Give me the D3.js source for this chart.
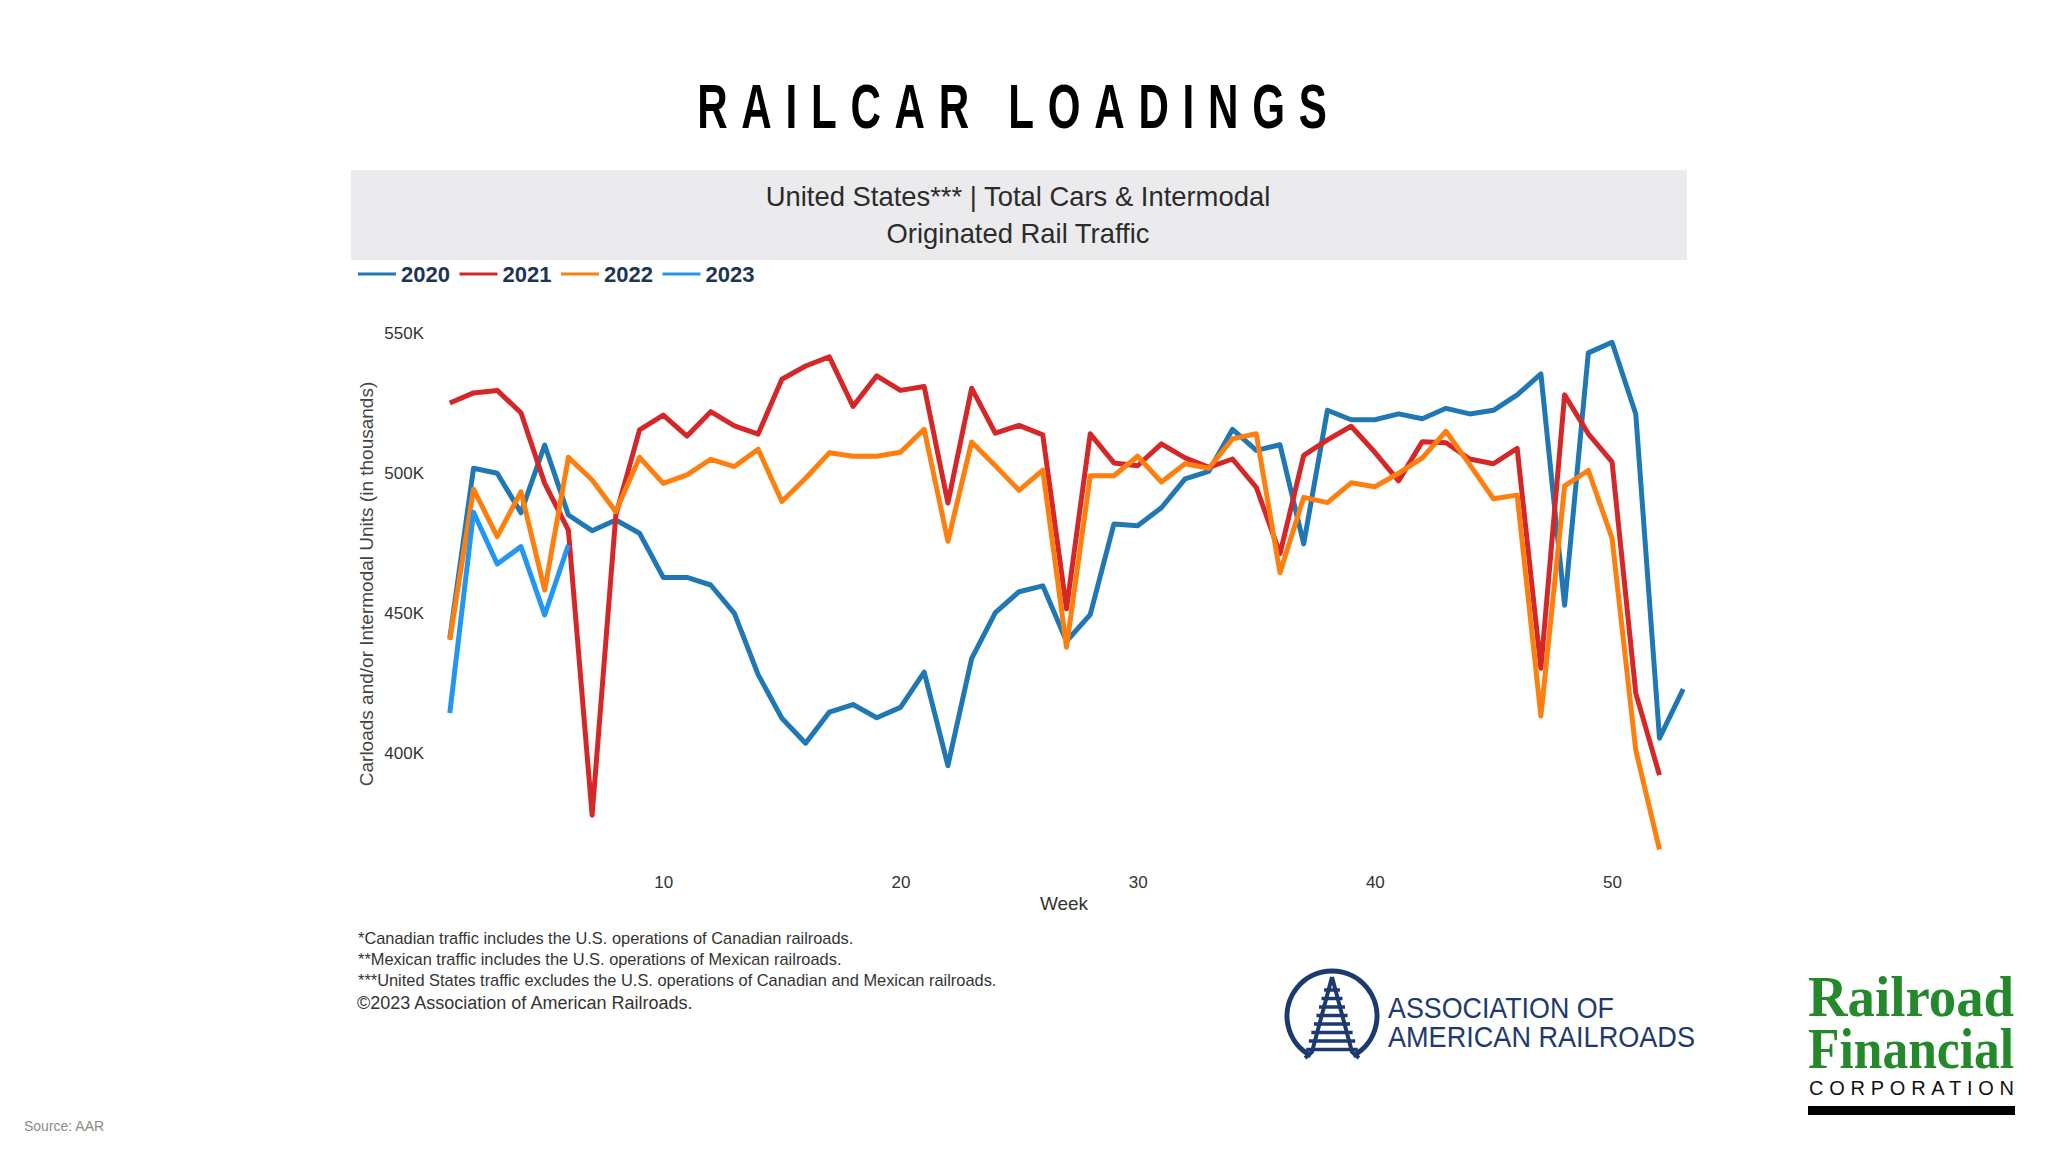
<!DOCTYPE html>
<html>
<head>
<meta charset="utf-8">
<script src="https://cdn.jsdelivr.net/npm/d3@7"></script>
<style>
  body { margin: 0; background: #ffffff; }
  svg { display: block; font-family: "Liberation Sans", Arial, sans-serif; }
</style>
</head>
<body>
<div id="chart"></div>
<script>
// weekly originated carloads + intermodal units, in thousands
const years = ["2020", "2021", "2022", "2023"];
const colors = ["#1f77b4", "#d62728", "#ff7f0e", "#2196f3"];

const loads2020 = [441, 501.7, 499.9, 485.8, 510, 485, 479.4, 483.2, 478.5, 462.7,
  462.7, 460, 449.9, 428, 412.4, 403.5, 414.6, 417.3, 412.6, 416.3,
  428.9, 395.5, 433.7, 450.1, 457.6, 459.7, 439.9, 449.4, 481.8, 481.2,
  487.6, 497.9, 500.6, 515.6, 508.1, 510.1, 474.7, 522.4, 519, 519,
  521.1, 519.4, 523.1, 521.1, 522.4, 527.9, 535.4, 452.8, 542.9, 546.7,
  521.1, 405.3, 422.8];
const loads2021 = [525, 528.6, 529.5, 521.5, 496.3, 479.6, 377.8, 485, 515.4, 520.7,
  513.2, 521.9, 516.8, 513.9, 533.5, 538.2, 541.5, 523.8, 534.7, 529.5,
  530.9, 489.3, 530.3, 514.2, 517, 513.6, 451.5, 514, 503.6, 502.6,
  510.4, 505.4, 502, 505, 494.9, 471.2, 506.3, 511.8, 516.7, 507.4,
  497.2, 511.2, 510.8, 505, 503.3, 508.8, 430.3, 527.9, 514, 504,
  421.4, 392.1];
const loads2022 = [440.4, 494.2, 477.3, 493.3, 458.2, 505.6, 497.5, 486.2, 505.6, 496.3,
  499.3, 504.9, 502.3, 508.5, 489.8, 498.1, 507.2, 506, 506, 507.4,
  515.6, 475.6, 511.1, 502.6, 493.8, 501, 437.8, 499, 499, 506,
  496.8, 503.3, 501.7, 512.2, 514, 464.4, 491.3, 489.4, 496.5, 495.1,
  499.9, 505.4, 514.9, 503, 490.8, 492.1, 413.2, 495.4, 500.9, 476.7,
  401, 365.5];
const loads2023 = [414.3, 486, 467.5, 473.7, 449.3, 474.3];

const yTicks = [400, 450, 500, 550];
const xTicks = [10, 20, 30, 40, 50];

const footnotes = [
  "*Canadian traffic includes the U.S. operations of Canadian railroads.",
  "**Mexican traffic includes the U.S. operations of Mexican railroads.",
  "***United States traffic excludes the U.S. operations of Canadian and Mexican railroads."
];

const series = [loads2020, loads2021, loads2022, loads2023].map((vals, i) => ({
  year: years[i],
  color: colors[i],
  values: vals.map((v, k) => ({ week: k + 1, value: v }))
}));

const W = 2048, H = 1152;
const svg = d3.select("#chart").append("svg")
  .attr("width", W)
  .attr("height", H);

svg.append("rect").attr("width", W).attr("height", H).attr("fill", "#ffffff");

// page title, squeezed horizontally to look like a condensed face
svg.append("g")
  .attr("transform", "translate(1012,128) scale(0.68,1)")
  .append("text")
  .attr("text-anchor", "middle")
  .attr("textLength", 926)
  .attr("lengthAdjust", "spacing")
  .style("font-weight", "bold")
  .style("font-size", "62px")
  .attr("fill", "#000")
  .text("RAILCAR LOADINGS");

// header band
svg.append("rect")
  .attr("x", 351).attr("y", 170)
  .attr("width", 1336).attr("height", 90)
  .attr("fill", "#ebebee");

svg.append("text")
  .attr("x", 1018).attr("y", 206)
  .attr("text-anchor", "middle")
  .style("font-size", "27.4px")
  .attr("fill", "#2b2b2b")
  .text("United States*** | Total Cars & Intermodal");

svg.append("text")
  .attr("x", 1018).attr("y", 243)
  .attr("text-anchor", "middle")
  .style("font-size", "27.4px")
  .attr("fill", "#2b2b2b")
  .text("Originated Rail Traffic");

// legend
const legend = svg.append("g").attr("transform", "translate(358,274)");
const item = legend.selectAll("g").data(series).join("g")
  .attr("transform", (d, i) => "translate(" + (i * 101.5) + ",0)");
item.append("line")
  .attr("x1", 0).attr("x2", 38)
  .attr("stroke", d => d.color)
  .attr("stroke-width", 3);
item.append("text")
  .attr("x", 43).attr("y", 8)
  .style("font-size", "22px")
  .style("font-weight", "bold")
  .attr("fill", "#1b3556")
  .text(d => d.year);

// scales
const x = d3.scaleLinear().domain([1, 53]).range([449.8, 1683.2]);
const y = d3.scaleLinear().domain([400, 550]).range([753, 333]);

const yAxis = svg.append("g")
  .attr("transform", "translate(430,0)")
  .call(d3.axisLeft(y).tickValues(yTicks).tickFormat(d => d + "K").tickSize(0).tickPadding(6));
yAxis.select(".domain").remove();
yAxis.selectAll("text")
  .style("font-family", "'Liberation Sans', Arial, sans-serif")
  .style("font-size", "17px")
  .attr("fill", "#333");

const xAxis = svg.append("g")
  .attr("transform", "translate(0,870)")
  .call(d3.axisBottom(x).tickValues(xTicks).tickSize(0).tickPadding(6));
xAxis.select(".domain").remove();
xAxis.selectAll("text")
  .style("font-family", "'Liberation Sans', Arial, sans-serif")
  .style("font-size", "17px")
  .attr("fill", "#333");

svg.append("text")
  .attr("x", 1064).attr("y", 910)
  .attr("text-anchor", "middle")
  .style("font-size", "19px")
  .attr("fill", "#333")
  .text("Week");

svg.append("text")
  .attr("transform", "translate(373,584) rotate(-90)")
  .attr("text-anchor", "middle")
  .style("font-size", "19px")
  .attr("fill", "#444")
  .text("Carloads and/or Intermodal Units (in thousands)");

// lines
const line = d3.line()
  .x(d => x(d.week))
  .y(d => y(d.value));

svg.append("g").selectAll("path").data(series).join("path")
  .attr("fill", "none")
  .attr("stroke", d => d.color)
  .attr("stroke-width", 5)
  .attr("stroke-linejoin", "round")
  .attr("d", d => line(d.values));

// footnotes
svg.append("g").selectAll("text").data(footnotes).join("text")
  .attr("x", 358)
  .attr("y", (d, i) => 944 + i * 21)
  .style("font-size", "16.4px")
  .attr("fill", "#333")
  .text(d => d);

svg.append("text")
  .attr("x", 357).attr("y", 1009)
  .style("font-size", "18px")
  .attr("fill", "#333")
  .text("\u00A92023 Association of American Railroads.");

// AAR logo
const aar = svg.append("g").attr("fill", "none").attr("stroke", "#1c3a70");
const cx = 1332, cy = 1016, r = 45;
const a0 = 118 * Math.PI / 180, a1 = 62 * Math.PI / 180;
aar.append("path")
  .attr("stroke-width", 5)
  .attr("d", "M" + (cx + r * Math.cos(a0)) + "," + (cy + r * Math.sin(a0)) +
    " A" + r + "," + r + " 0 1,1 " + (cx + r * Math.cos(a1)) + "," + (cy + r * Math.sin(a1)));
aar.append("path")
  .attr("stroke-width", 4)
  .attr("d", "M" + cx + ",977 L" + (cx - 20) + ",1052 L" + (cx - 27) + ",1058" +
    " M" + cx + ",977 L" + (cx + 20) + ",1052 L" + (cx + 27) + ",1058");
d3.range(8).forEach(k => {
  const ty = 990 + k * 8.5;
  const hw = 4 + (ty - 977) * 0.3;
  aar.append("line")
    .attr("x1", cx - hw).attr("x2", cx + hw)
    .attr("y1", ty).attr("y2", ty)
    .attr("stroke-width", 3.5);
});
svg.append("text")
  .attr("x", 1388).attr("y", 1018)
  .attr("textLength", 226)
  .attr("lengthAdjust", "spacingAndGlyphs")
  .style("font-size", "30px")
  .attr("fill", "#1c3a70")
  .text("ASSOCIATION OF");
svg.append("text")
  .attr("x", 1388).attr("y", 1047)
  .attr("textLength", 307)
  .attr("lengthAdjust", "spacingAndGlyphs")
  .style("font-size", "30px")
  .attr("fill", "#1c3a70")
  .text("AMERICAN RAILROADS");

// Railroad Financial Corporation logo
svg.append("text")
  .attr("x", 1808).attr("y", 1016)
  .attr("textLength", 206)
  .attr("lengthAdjust", "spacingAndGlyphs")
  .style("font-family", "'Liberation Serif', 'DejaVu Serif', serif")
  .style("font-weight", "bold")
  .style("font-size", "56px")
  .attr("fill", "#23892b")
  .text("Railroad");
svg.append("text")
  .attr("x", 1808).attr("y", 1068)
  .attr("textLength", 206)
  .attr("lengthAdjust", "spacingAndGlyphs")
  .style("font-family", "'Liberation Serif', 'DejaVu Serif', serif")
  .style("font-weight", "bold")
  .style("font-size", "56px")
  .attr("fill", "#23892b")
  .text("Financial");
svg.append("text")
  .attr("x", 1809).attr("y", 1095)
  .attr("textLength", 205)
  .attr("lengthAdjust", "spacing")
  .style("font-size", "20px")
  .attr("fill", "#111")
  .text("CORPORATION");
svg.append("rect")
  .attr("x", 1808).attr("y", 1106)
  .attr("width", 207).attr("height", 9)
  .attr("fill", "#000");

svg.append("text")
  .attr("x", 24).attr("y", 1131)
  .style("font-size", "14px")
  .attr("fill", "#8c8c84")
  .text("Source: AAR");
</script>
</body>
</html>
